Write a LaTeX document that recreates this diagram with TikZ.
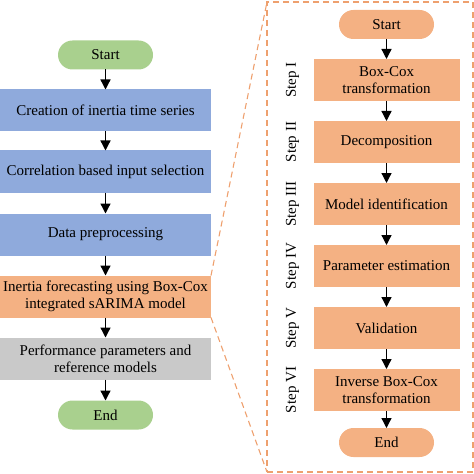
\documentclass[tikz,border=0pt]{standalone}
\usepackage{fontspec}
\setmainfont{Liberation Serif}
\usetikzlibrary{arrows.meta, positioning, shapes}
\definecolor{my_green}{RGB}{169, 208, 142}
\definecolor{my_blue}{RGB}{143, 170, 220}
\definecolor{my_orange}{RGB}{244, 177, 131}
\definecolor{my_gray}{RGB}{201, 201, 201}
\definecolor{my_dash}{RGB}{238, 160, 110}
\newcommand{\flowfont}{\fontsize{15bp}{17bp}\selectfont}
\tikzset {
  pill/.style = {rectangle, rounded corners=14.5bp, minimum width=95bp, minimum height=29bp, inner sep=0pt, font=\flowfont},
  wide/.style = {rectangle, minimum width=211bp, minimum height=42bp, inner sep=0pt, align=center, font=\flowfont},
  stepbox/.style = {rectangle, fill=my_orange, minimum width=146bp, minimum height=42bp, inner sep=0pt, align=center, font=\flowfont},
  steplabel/.style = {rotate=90, inner sep=0pt, font=\flowfont},
  line/.style = {-{Triangle[width=10bp, length=10bp]}, line width=1.3bp, color=black},
  zoomline/.style = {draw=my_dash, line width=1.1bp, dash pattern=on 6bp off 4bp},
}

\begin{document}
\begin{tikzpicture}[x=1bp, y=-1bp, outer sep=0pt, node distance=20bp]
    \useasboundingbox (0,0) rectangle (474,474);

    % main flow
    \node[pill, fill=my_green] (start) at (105.5,55) {Start};
    \node[wide, fill=my_blue, below=of start] (series) {Creation of inertia time series};
    \node[wide, fill=my_blue, below=19bp of series] (corr) {Correlation based input selection};
    \node[wide, fill=my_blue, below=21bp of corr] (prep) {Data preprocessing};
    \node[wide, fill=my_orange, below=of prep] (forecast) {Inertia forecasting using Box-Cox\\integrated sARIMA model};
    \node[wide, fill=my_gray, below=of forecast] (perf) {Performance parameters and\\reference models};
    \node[pill, fill=my_green, below=21bp of perf] (end) {End};

    \draw[line] (start) -- (series);
    \draw[line] (series) -- (corr);
    \draw[line] (corr) -- (prep);
    \draw[line] (prep) -- (forecast);
    \draw[line] (forecast) -- (perf);
    \draw[line] (perf) -- (end);

    % detail of the forecasting step
    \node[zoomline, rectangle, minimum width=206bp, minimum height=470bp] (detail) at (370,237) {};
    \draw[zoomline] (forecast.north east) -- (detail.north west);
    \draw[zoomline] (forecast.south east) -- (detail.south west);

    \node[pill, fill=my_orange] (start2) at (386.5,24.5) {Start};
    \node[stepbox, below=of start2] (s1) {Box-Cox\\transformation};
    \node[stepbox, below=of s1] (s2) {Decomposition};
    \node[stepbox, below=of s2] (s3) {Model identification};
    \node[stepbox, below=of s3] (s4) {Parameter estimation};
    \node[stepbox, below=of s4] (s5) {Validation};
    \node[stepbox, below=of s5] (s6) {Inverse Box-Cox\\transformation};
    \node[pill, fill=my_orange, below=17bp of s6] (end2) {End};

    \draw[line] (start2) -- (s1);
    \draw[line] (s1) -- (s2);
    \draw[line] (s2) -- (s3);
    \draw[line] (s3) -- (s4);
    \draw[line] (s4) -- (s5);
    \draw[line] (s5) -- (s6);
    \draw[line] (s6) -- (end2);

    \node[xshift=-21bp, steplabel] (l1) at (s1.west) {Step I};
    \node[xshift=-21bp, steplabel] (l2) at (s2.west) {Step II};
    \node[xshift=-21bp, steplabel] (l3) at (s3.west) {Step III};
    \node[xshift=-21bp, steplabel] (l4) at (s4.west) {Step IV};
    \node[xshift=-21bp, steplabel] (l5) at (s5.west) {Step V};
    \node[xshift=-21bp, steplabel] (l6) at (s6.west) {Step VI};

  \end{tikzpicture}
\end{document}
